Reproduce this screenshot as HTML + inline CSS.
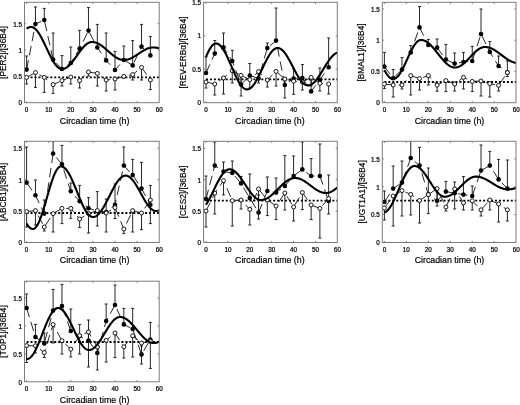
<!DOCTYPE html>
<html lang="en">
<head>
<meta charset="utf-8">
<title>Circadian expression</title>
<style>
html,body{margin:0;padding:0;background:#fff;}
body{width:520px;height:405px;overflow:hidden;}
svg{display:block;font-family:"Liberation Sans",Arial,sans-serif;}
</style>
</head>
<body>
<svg width="520" height="405" viewBox="0 0 520 405">
<rect width="520" height="405" fill="#fff"/>
<defs>
<clipPath id="c0"><rect x="24.5" y="2.3" width="134.7" height="100.4"/></clipPath>
<clipPath id="c1"><rect x="203.6" y="2.3" width="133.7" height="100.4"/></clipPath>
<clipPath id="c2"><rect x="382.3" y="2.3" width="133.7" height="100.4"/></clipPath>
<clipPath id="c3"><rect x="24.5" y="141.3" width="134.7" height="101.2"/></clipPath>
<clipPath id="c4"><rect x="203.6" y="141.3" width="133.7" height="101.2"/></clipPath>
<clipPath id="c5"><rect x="382.3" y="141.3" width="133.7" height="101.2"/></clipPath>
<clipPath id="c6"><rect x="24.5" y="281.2" width="134.7" height="100.6"/></clipPath>
</defs>
<g>
<g clip-path="url(#c0)">
<path d="M26.6 77.4 H159.2" stroke="#000" stroke-width="1.8" stroke-dasharray="2 1.95" fill="none"/>
<path d="M26.6 69.6V56M25.1 56H28.1M35.44 24V7M33.94 7H36.94M44.28 20V8.4M42.78 8.4H45.78M53.12 59.6V33M51.62 33H54.62M61.96 69V55.6M60.46 55.6H63.46M70.8 63V47M69.3 47H72.3M79.64 48.6V30.4M78.14 30.4H81.14M88.48 30.6V7.6M86.98 7.6H89.98M97.32 47.5V24.4M95.82 24.4H98.82M106.16 60.4V33M104.66 33H107.66M115 70V51.4M113.5 51.4H116.5M123.84 60V46M122.34 46H125.34M132.68 65.4V40.6M131.18 40.6H134.18M141.52 46.6V24.4M140.02 24.4H143.02M150.36 55.4V36.4M148.86 36.4H151.86" stroke="#1a1a1a" stroke-width="0.95" fill="none"/>
<path d="M26.6 69.6 L35.44 24 L44.28 20 L53.12 59.6 L61.96 69 L70.8 63 L79.64 48.6 L88.48 30.6 L97.32 47.5 L106.16 60.4 L115 70 L123.84 60 L132.68 65.4 L141.52 46.6 L150.36 55.4" stroke="#1a1a1a" stroke-width="0.95" stroke-dasharray="9.5 5" fill="none"/>
<circle cx="26.6" cy="69.6" r="2.3" fill="#000"/>
<circle cx="35.44" cy="24" r="2.3" fill="#000"/>
<circle cx="44.28" cy="20" r="2.3" fill="#000"/>
<circle cx="53.12" cy="59.6" r="2.3" fill="#000"/>
<circle cx="61.96" cy="69" r="2.3" fill="#000"/>
<circle cx="70.8" cy="63" r="2.3" fill="#000"/>
<circle cx="79.64" cy="48.6" r="2.3" fill="#000"/>
<circle cx="88.48" cy="30.6" r="2.3" fill="#000"/>
<circle cx="97.32" cy="47.5" r="2.3" fill="#000"/>
<circle cx="106.16" cy="60.4" r="2.3" fill="#000"/>
<circle cx="115" cy="70" r="2.3" fill="#000"/>
<circle cx="123.84" cy="60" r="2.3" fill="#000"/>
<circle cx="132.68" cy="65.4" r="2.3" fill="#000"/>
<circle cx="141.52" cy="46.6" r="2.3" fill="#000"/>
<circle cx="150.36" cy="55.4" r="2.3" fill="#000"/>
<path d="M26.6 77.4V84M25.1 84H28.1M35.44 72.6V87.4M33.94 87.4H36.94M44.28 77.4V92.4M42.78 92.4H45.78M53.12 84.6V93.4M51.62 93.4H54.62M61.96 80.6V86M60.46 86H63.46M70.8 77V84M69.3 84H72.3M79.64 80.6V88M78.14 88H81.14M88.48 72V76M86.98 76H89.98M97.32 73.4V86M95.82 86H98.82M106.16 80V91M104.66 91H107.66M115 79V90M113.5 90H116.5M123.84 76.4V78M122.34 78H125.34M132.68 74.6V80M131.18 80H134.18M141.52 67.4V80M140.02 80H143.02M150.36 80V89.6M148.86 89.6H151.86" stroke="#1a1a1a" stroke-width="0.95" fill="none"/>
<path d="M26.6 77.4 L35.44 72.6 L44.28 77.4 L53.12 84.6 L61.96 80.6 L70.8 77 L79.64 80.6 L88.48 72 L97.32 73.4 L106.16 80 L115 79 L123.84 76.4 L132.68 74.6 L141.52 67.4 L150.36 80" stroke="#1a1a1a" stroke-width="0.95" stroke-dasharray="9.5 5" fill="none"/>
<circle cx="26.6" cy="77.4" r="2" fill="#fff" stroke="#000" stroke-width="0.9"/>
<circle cx="35.44" cy="72.6" r="2" fill="#fff" stroke="#000" stroke-width="0.9"/>
<circle cx="44.28" cy="77.4" r="2" fill="#fff" stroke="#000" stroke-width="0.9"/>
<circle cx="53.12" cy="84.6" r="2" fill="#fff" stroke="#000" stroke-width="0.9"/>
<circle cx="61.96" cy="80.6" r="2" fill="#fff" stroke="#000" stroke-width="0.9"/>
<circle cx="70.8" cy="77" r="2" fill="#fff" stroke="#000" stroke-width="0.9"/>
<circle cx="79.64" cy="80.6" r="2" fill="#fff" stroke="#000" stroke-width="0.9"/>
<circle cx="88.48" cy="72" r="2" fill="#fff" stroke="#000" stroke-width="0.9"/>
<circle cx="97.32" cy="73.4" r="2" fill="#fff" stroke="#000" stroke-width="0.9"/>
<circle cx="106.16" cy="80" r="2" fill="#fff" stroke="#000" stroke-width="0.9"/>
<circle cx="115" cy="79" r="2" fill="#fff" stroke="#000" stroke-width="0.9"/>
<circle cx="123.84" cy="76.4" r="2" fill="#fff" stroke="#000" stroke-width="0.9"/>
<circle cx="132.68" cy="74.6" r="2" fill="#fff" stroke="#000" stroke-width="0.9"/>
<circle cx="141.52" cy="67.4" r="2" fill="#fff" stroke="#000" stroke-width="0.9"/>
<circle cx="150.36" cy="80" r="2" fill="#fff" stroke="#000" stroke-width="0.9"/>
<path d="M26.6 28.62 L27.1 28.27 L27.6 27.97 L28.1 27.71 L28.6 27.49 L29.1 27.31 L29.6 27.17 L30.1 27.07 L30.6 27.01 L31.1 27 L31.6 27.04 L32.1 27.13 L32.6 27.28 L33.1 27.47 L33.6 27.72 L34.1 28.03 L34.6 28.38 L35.1 28.79 L35.6 29.24 L36.1 29.74 L36.6 30.29 L37.1 30.89 L37.6 31.52 L38.1 32.21 L38.6 32.93 L39.1 33.69 L39.6 34.48 L40.1 35.31 L40.6 36.18 L41.1 37.07 L41.6 38 L42.1 38.94 L42.6 39.91 L43.1 40.91 L43.6 41.92 L44.1 42.94 L44.6 43.98 L45.1 45.03 L45.6 46.09 L46.1 47.15 L46.6 48.21 L47.1 49.28 L47.6 50.34 L48.1 51.39 L48.6 52.44 L49.1 53.47 L49.6 54.49 L50.1 55.49 L50.6 56.48 L51.1 57.44 L51.6 58.38 L52.1 59.29 L52.6 60.17 L53.1 61.02 L53.6 61.84 L54.1 62.62 L54.6 63.37 L55.1 64.07 L55.6 64.74 L56.1 65.36 L56.6 65.93 L57.1 66.46 L57.6 66.95 L58.1 67.38 L58.6 67.77 L59.1 68.1 L59.6 68.38 L60.1 68.61 L60.6 68.79 L61.1 68.91 L61.6 68.98 L62.1 69 L62.6 68.97 L63.1 68.91 L63.6 68.81 L64.1 68.67 L64.6 68.5 L65.1 68.29 L65.6 68.05 L66.1 67.77 L66.6 67.46 L67.1 67.12 L67.6 66.74 L68.1 66.34 L68.6 65.9 L69.1 65.44 L69.6 64.95 L70.1 64.43 L70.6 63.89 L71.1 63.32 L71.6 62.73 L72.1 62.13 L72.6 61.5 L73.1 60.86 L73.6 60.21 L74.1 59.54 L74.6 58.86 L75.1 58.17 L75.6 57.47 L76.1 56.77 L76.6 56.07 L77.1 55.36 L77.6 54.65 L78.1 53.95 L78.6 53.25 L79.1 52.56 L79.6 51.87 L80.1 51.19 L80.6 50.53 L81.1 49.88 L81.6 49.25 L82.1 48.63 L82.6 48.03 L83.1 47.45 L83.6 46.89 L84.1 46.36 L84.6 45.85 L85.1 45.37 L85.6 44.92 L86.1 44.5 L86.6 44.1 L87.1 43.74 L87.6 43.41 L88.1 43.11 L88.6 42.85 L89.1 42.62 L89.6 42.42 L90.1 42.27 L90.6 42.14 L91.1 42.06 L91.6 42.01 L92.1 42 L92.6 42.02 L93.1 42.05 L93.6 42.11 L94.1 42.19 L94.6 42.29 L95.1 42.41 L95.6 42.56 L96.1 42.72 L96.6 42.9 L97.1 43.1 L97.6 43.33 L98.1 43.57 L98.6 43.82 L99.1 44.1 L99.6 44.39 L100.1 44.7 L100.6 45.02 L101.1 45.36 L101.6 45.71 L102.1 46.07 L102.6 46.45 L103.1 46.84 L103.6 47.23 L104.1 47.64 L104.6 48.05 L105.1 48.47 L105.6 48.9 L106.1 49.33 L106.6 49.77 L107.1 50.21 L107.6 50.65 L108.1 51.09 L108.6 51.53 L109.1 51.97 L109.6 52.41 L110.1 52.84 L110.6 53.27 L111.1 53.7 L111.6 54.12 L112.1 54.53 L112.6 54.93 L113.1 55.32 L113.6 55.7 L114.1 56.07 L114.6 56.43 L115.1 56.78 L115.6 57.11 L116.1 57.43 L116.6 57.73 L117.1 58.01 L117.6 58.28 L118.1 58.53 L118.6 58.76 L119.1 58.98 L119.6 59.17 L120.1 59.35 L120.6 59.5 L121.1 59.64 L121.6 59.75 L122.1 59.84 L122.6 59.92 L123.1 59.96 L123.6 59.99 L124.1 60 L124.6 59.99 L125.1 59.96 L125.6 59.91 L126.1 59.84 L126.6 59.75 L127.1 59.65 L127.6 59.53 L128.1 59.39 L128.6 59.24 L129.1 59.07 L129.6 58.88 L130.1 58.68 L130.6 58.47 L131.1 58.24 L131.6 58 L132.1 57.74 L132.6 57.48 L133.1 57.2 L133.6 56.91 L134.1 56.62 L134.6 56.31 L135.1 56 L135.6 55.68 L136.1 55.36 L136.6 55.03 L137.1 54.69 L137.6 54.36 L138.1 54.02 L138.6 53.68 L139.1 53.34 L139.6 53.01 L140.1 52.67 L140.6 52.34 L141.1 52.01 L141.6 51.69 L142.1 51.37 L142.6 51.06 L143.1 50.76 L143.6 50.47 L144.1 50.19 L144.6 49.91 L145.1 49.65 L145.6 49.4 L146.1 49.17 L146.6 48.94 L147.1 48.73 L147.6 48.54 L148.1 48.36 L148.6 48.2 L149.1 48.05 L149.6 47.92 L150.1 47.81 L150.6 47.71 L151.1 47.63 L151.6 47.57 L152.1 47.53 L152.6 47.51 L153.1 47.5 L153.6 47.51 L154.1 47.52 L154.6 47.55 L155.1 47.58 L155.6 47.63 L156.1 47.68 L156.6 47.75 L157.1 47.82 L157.6 47.9 L158.1 47.99 L158.6 48.09 L159.1 48.19 L159.2 48.22" stroke="#000" stroke-width="2.1" fill="none" stroke-linejoin="round"/>
</g>
<rect x="24.5" y="2.3" width="134.7" height="100.4" fill="none" stroke="#7c7c7c" stroke-width="1.0"/>
<path d="M26.6 102.7v-1.6M26.6 2.3v1.6M48.7 102.7v-1.6M48.7 2.3v1.6M70.8 102.7v-1.6M70.8 2.3v1.6M92.9 102.7v-1.6M92.9 2.3v1.6M115 102.7v-1.6M115 2.3v1.6M137.1 102.7v-1.6M137.1 2.3v1.6M24.5 76.3h1.6M159.2 76.3h-1.6M24.5 50h1.6M159.2 50h-1.6M24.5 23.7h1.6M159.2 23.7h-1.6" stroke="#7c7c7c" stroke-width="1.0" fill="none"/>
<g font-size="6.3" fill="#000" stroke="#000" stroke-width="0.22">
<text x="26.6" y="112.36" text-anchor="middle">0</text>
<text x="48.7" y="112.36" text-anchor="middle">10</text>
<text x="70.8" y="112.36" text-anchor="middle">20</text>
<text x="92.9" y="112.36" text-anchor="middle">30</text>
<text x="115" y="112.36" text-anchor="middle">40</text>
<text x="137.1" y="112.36" text-anchor="middle">50</text>
<text x="159.2" y="112.36" text-anchor="middle">60</text>
<text x="21.9" y="105.46" text-anchor="end">0</text>
<text x="21.9" y="79.16" text-anchor="end">0.5</text>
<text x="21.9" y="52.86" text-anchor="end">1</text>
<text x="21.9" y="26.56" text-anchor="end">1.5</text>
</g>
<text x="94.65" y="123.69" text-anchor="middle" font-size="9.3" fill="#000" stroke="#000" stroke-width="0.2" textLength="69.6" lengthAdjust="spacingAndGlyphs">Circadian time (h)</text>
<text transform="translate(6.44 52.5) rotate(-90)" text-anchor="middle" font-size="8.3" fill="#000" stroke="#000" stroke-width="0.2">[PER2]/[36B4]</text>
</g>
<g>
<g clip-path="url(#c1)">
<path d="M206 79.4 H337.3" stroke="#000" stroke-width="1.8" stroke-dasharray="2 1.95" fill="none"/>
<path d="M206 73V57M204.5 57H207.5M214.76 53.6V40.5M213.26 40.5H216.26M223.52 47.4V33M222.02 33H225.02M232.28 61V50.3M230.78 50.3H233.78M241.04 84.6V76M239.54 76H242.54M249.8 75.6V63.5M248.3 63.5H251.3M258.56 78.4V74M257.06 74H260.06M267.32 48V43M265.82 43H268.82M276.08 40.6V8M274.58 8H277.58M284.84 85V78M283.34 78H286.34M293.6 78.5V69M292.1 69H295.1M302.36 78V64.5M300.86 64.5H303.86M311.12 91.4V80M309.62 80H312.62M319.88 80V68M318.38 68H321.38M328.64 67.2V38M327.14 38H330.14" stroke="#1a1a1a" stroke-width="0.95" fill="none"/>
<path d="M206 73 L214.76 53.6 L223.52 47.4 L232.28 61 L241.04 84.6 L249.8 75.6 L258.56 78.4 L267.32 48 L276.08 40.6 L284.84 85 L293.6 78.5 L302.36 78 L311.12 91.4 L319.88 80 L328.64 67.2" stroke="#1a1a1a" stroke-width="0.95" stroke-dasharray="9.5 5" fill="none"/>
<circle cx="206" cy="73" r="2.3" fill="#000"/>
<circle cx="214.76" cy="53.6" r="2.3" fill="#000"/>
<circle cx="223.52" cy="47.4" r="2.3" fill="#000"/>
<circle cx="232.28" cy="61" r="2.3" fill="#000"/>
<circle cx="241.04" cy="84.6" r="2.3" fill="#000"/>
<circle cx="249.8" cy="75.6" r="2.3" fill="#000"/>
<circle cx="258.56" cy="78.4" r="2.3" fill="#000"/>
<circle cx="267.32" cy="48" r="2.3" fill="#000"/>
<circle cx="276.08" cy="40.6" r="2.3" fill="#000"/>
<circle cx="284.84" cy="85" r="2.3" fill="#000"/>
<circle cx="293.6" cy="78.5" r="2.3" fill="#000"/>
<circle cx="302.36" cy="78" r="2.3" fill="#000"/>
<circle cx="311.12" cy="91.4" r="2.3" fill="#000"/>
<circle cx="319.88" cy="80" r="2.3" fill="#000"/>
<circle cx="328.64" cy="67.2" r="2.3" fill="#000"/>
<path d="M206 82V88M204.5 88H207.5M214.76 84V95M213.26 95H216.26M223.52 78V94M222.02 94H225.02M232.28 70.6V83M230.78 83H233.78M241.04 75.3V96M239.54 96H242.54M249.8 79.6V88M248.3 88H251.3M258.56 71.6V83M257.06 83H260.06M267.32 80V87M265.82 87H268.82M276.08 71.4V86M274.58 86H277.58M284.84 79V98M283.34 98H286.34M293.6 81.2V94.3M292.1 94.3H295.1M302.36 82V90M300.86 90H303.86M311.12 77.4V86M309.62 86H312.62M319.88 83.4V91M318.38 91H321.38M328.64 84V94M327.14 94H330.14" stroke="#1a1a1a" stroke-width="0.95" fill="none"/>
<path d="M206 82 L214.76 84 L223.52 78 L232.28 70.6 L241.04 75.3 L249.8 79.6 L258.56 71.6 L267.32 80 L276.08 71.4 L284.84 79 L293.6 81.2 L302.36 82 L311.12 77.4 L319.88 83.4 L328.64 84" stroke="#1a1a1a" stroke-width="0.95" stroke-dasharray="9.5 5" fill="none"/>
<circle cx="206" cy="82" r="2" fill="#fff" stroke="#000" stroke-width="0.9"/>
<circle cx="214.76" cy="84" r="2" fill="#fff" stroke="#000" stroke-width="0.9"/>
<circle cx="223.52" cy="78" r="2" fill="#fff" stroke="#000" stroke-width="0.9"/>
<circle cx="232.28" cy="70.6" r="2" fill="#fff" stroke="#000" stroke-width="0.9"/>
<circle cx="241.04" cy="75.3" r="2" fill="#fff" stroke="#000" stroke-width="0.9"/>
<circle cx="249.8" cy="79.6" r="2" fill="#fff" stroke="#000" stroke-width="0.9"/>
<circle cx="258.56" cy="71.6" r="2" fill="#fff" stroke="#000" stroke-width="0.9"/>
<circle cx="267.32" cy="80" r="2" fill="#fff" stroke="#000" stroke-width="0.9"/>
<circle cx="276.08" cy="71.4" r="2" fill="#fff" stroke="#000" stroke-width="0.9"/>
<circle cx="284.84" cy="79" r="2" fill="#fff" stroke="#000" stroke-width="0.9"/>
<circle cx="293.6" cy="81.2" r="2" fill="#fff" stroke="#000" stroke-width="0.9"/>
<circle cx="302.36" cy="82" r="2" fill="#fff" stroke="#000" stroke-width="0.9"/>
<circle cx="311.12" cy="77.4" r="2" fill="#fff" stroke="#000" stroke-width="0.9"/>
<circle cx="319.88" cy="83.4" r="2" fill="#fff" stroke="#000" stroke-width="0.9"/>
<circle cx="328.64" cy="84" r="2" fill="#fff" stroke="#000" stroke-width="0.9"/>
<path d="M206 56.95 L206.5 55.74 L207 54.57 L207.5 53.45 L208 52.38 L208.5 51.36 L209 50.39 L209.5 49.47 L210 48.62 L210.5 47.82 L211 47.09 L211.5 46.42 L212 45.81 L212.5 45.28 L213 44.81 L213.5 44.41 L214 44.08 L214.5 43.83 L215 43.65 L215.5 43.54 L216 43.5 L216.5 43.53 L217 43.62 L217.5 43.76 L218 43.97 L218.5 44.23 L219 44.55 L219.5 44.93 L220 45.36 L220.5 45.85 L221 46.38 L221.5 46.97 L222 47.61 L222.5 48.3 L223 49.04 L223.5 49.82 L224 50.64 L224.5 51.5 L225 52.4 L225.5 53.34 L226 54.31 L226.5 55.31 L227 56.34 L227.5 57.4 L228 58.48 L228.5 59.58 L229 60.7 L229.5 61.83 L230 62.97 L230.5 64.13 L231 65.29 L231.5 66.45 L232 67.61 L232.5 68.77 L233 69.93 L233.5 71.07 L234 72.2 L234.5 73.32 L235 74.42 L235.5 75.5 L236 76.56 L236.5 77.59 L237 78.59 L237.5 79.56 L238 80.5 L238.5 81.4 L239 82.26 L239.5 83.08 L240 83.86 L240.5 84.6 L241 85.29 L241.5 85.93 L242 86.52 L242.5 87.05 L243 87.54 L243.5 87.97 L244 88.35 L244.5 88.67 L245 88.93 L245.5 89.14 L246 89.28 L246.5 89.37 L247 89.4 L247.5 89.37 L248 89.29 L248.5 89.16 L249 88.97 L249.5 88.72 L250 88.43 L250.5 88.08 L251 87.68 L251.5 87.23 L252 86.73 L252.5 86.19 L253 85.6 L253.5 84.96 L254 84.28 L254.5 83.56 L255 82.8 L255.5 82.01 L256 81.17 L256.5 80.31 L257 79.42 L257.5 78.49 L258 77.54 L258.5 76.57 L259 75.58 L259.5 74.57 L260 73.54 L260.5 72.5 L261 71.45 L261.5 70.4 L262 69.34 L262.5 68.27 L263 67.21 L263.5 66.16 L264 65.11 L264.5 64.06 L265 63.04 L265.5 62.02 L266 61.02 L266.5 60.05 L267 59.09 L267.5 58.17 L268 57.27 L268.5 56.4 L269 55.56 L269.5 54.75 L270 53.99 L270.5 53.26 L271 52.57 L271.5 51.93 L272 51.33 L272.5 50.77 L273 50.27 L273.5 49.81 L274 49.4 L274.5 49.04 L275 48.73 L275.5 48.48 L276 48.28 L276.5 48.13 L277 48.04 L277.5 48 L278 48.02 L278.5 48.08 L279 48.2 L279.5 48.36 L280 48.57 L280.5 48.83 L281 49.14 L281.5 49.5 L282 49.9 L282.5 50.35 L283 50.84 L283.5 51.37 L284 51.94 L284.5 52.56 L285 53.21 L285.5 53.89 L286 54.61 L286.5 55.37 L287 56.15 L287.5 56.96 L288 57.8 L288.5 58.66 L289 59.54 L289.5 60.45 L290 61.36 L290.5 62.3 L291 63.24 L291.5 64.2 L292 65.16 L292.5 66.12 L293 67.09 L293.5 68.05 L294 69.01 L294.5 69.97 L295 70.91 L295.5 71.85 L296 72.77 L296.5 73.68 L297 74.56 L297.5 75.43 L298 76.27 L298.5 77.09 L299 77.88 L299.5 78.64 L300 79.37 L300.5 80.06 L301 80.72 L301.5 81.34 L302 81.92 L302.5 82.46 L303 82.96 L303.5 83.41 L304 83.82 L304.5 84.19 L305 84.51 L305.5 84.78 L306 85 L306.5 85.18 L307 85.3 L307.5 85.38 L308 85.4 L308.5 85.38 L309 85.32 L309.5 85.21 L310 85.06 L310.5 84.87 L311 84.65 L311.5 84.38 L312 84.07 L312.5 83.72 L313 83.33 L313.5 82.91 L314 82.45 L314.5 81.96 L315 81.43 L315.5 80.87 L316 80.28 L316.5 79.67 L317 79.02 L317.5 78.35 L318 77.65 L318.5 76.93 L319 76.19 L319.5 75.44 L320 74.66 L320.5 73.87 L321 73.07 L321.5 72.26 L322 71.44 L322.5 70.61 L323 69.78 L323.5 68.95 L324 68.12 L324.5 67.29 L325 66.46 L325.5 65.64 L326 64.83 L326.5 64.03 L327 63.24 L327.5 62.46 L328 61.71 L328.5 60.97 L329 60.25 L329.5 59.55 L330 58.88 L330.5 58.23 L331 57.62 L331.5 57.03 L332 56.47 L332.5 55.94 L333 55.45 L333.5 54.99 L334 54.57 L334.5 54.18 L335 53.83 L335.5 53.52 L336 53.25 L336.5 53.03 L337 52.84 L337.3 52.74" stroke="#000" stroke-width="2.1" fill="none" stroke-linejoin="round"/>
</g>
<rect x="203.6" y="2.3" width="133.7" height="100.4" fill="none" stroke="#7c7c7c" stroke-width="1.0"/>
<path d="M206 102.7v-1.6M206 2.3v1.6M227.9 102.7v-1.6M227.9 2.3v1.6M249.8 102.7v-1.6M249.8 2.3v1.6M271.7 102.7v-1.6M271.7 2.3v1.6M293.6 102.7v-1.6M293.6 2.3v1.6M315.5 102.7v-1.6M315.5 2.3v1.6M203.6 69.25h1.6M337.3 69.25h-1.6M203.6 35.9h1.6M337.3 35.9h-1.6" stroke="#7c7c7c" stroke-width="1.0" fill="none"/>
<g font-size="6.3" fill="#000" stroke="#000" stroke-width="0.22">
<text x="206" y="112.36" text-anchor="middle">0</text>
<text x="227.9" y="112.36" text-anchor="middle">10</text>
<text x="249.8" y="112.36" text-anchor="middle">20</text>
<text x="271.7" y="112.36" text-anchor="middle">30</text>
<text x="293.6" y="112.36" text-anchor="middle">40</text>
<text x="315.5" y="112.36" text-anchor="middle">50</text>
<text x="337.4" y="112.36" text-anchor="middle">60</text>
<text x="201" y="104.86" text-anchor="end">0</text>
<text x="201" y="71.51" text-anchor="end">0.5</text>
<text x="201" y="38.16" text-anchor="end">1</text>
<text x="201" y="4.81" text-anchor="end">1.5</text>
</g>
<text x="269.85" y="123.69" text-anchor="middle" font-size="9.3" fill="#000" stroke="#000" stroke-width="0.2" textLength="69.6" lengthAdjust="spacingAndGlyphs">Circadian time (h)</text>
<text transform="translate(185.84 52.5) rotate(-90)" text-anchor="middle" font-size="8.3" fill="#000" stroke="#000" stroke-width="0.2">[REV-ERBα]/[36B4]</text>
</g>
<g>
<g clip-path="url(#c2)">
<path d="M384.4 82 H516" stroke="#000" stroke-width="1.8" stroke-dasharray="2 1.95" fill="none"/>
<path d="M384.4 66.6V52.4M382.9 52.4H385.9M393.18 78.3V69.6M391.68 69.6H394.68M401.97 69.6V57.6M400.47 57.6H403.47M410.75 52.4V45.6M409.25 45.6H412.25M419.54 27.4V6.6M418.04 6.6H421.04M428.32 45V39.5M426.82 39.5H429.82M437.1 47.6V39M435.6 39H438.6M445.89 59.6V44.4M444.39 44.4H447.39M454.67 63.6V53M453.17 53H456.17M463.46 62V52.4M461.96 52.4H464.96M472.24 61V46.4M470.74 46.4H473.74M481.02 34V9M479.52 9H482.52M489.81 52V41.6M488.31 41.6H491.31M498.59 66V56M497.09 56H500.09M507.38 72.4V61M505.88 61H508.88" stroke="#1a1a1a" stroke-width="0.95" fill="none"/>
<path d="M384.4 66.6 L393.18 78.3 L401.97 69.6 L410.75 52.4 L419.54 27.4 L428.32 45 L437.1 47.6 L445.89 59.6 L454.67 63.6 L463.46 62 L472.24 61 L481.02 34 L489.81 52 L498.59 66 L507.38 72.4" stroke="#1a1a1a" stroke-width="0.95" stroke-dasharray="9.5 5" fill="none"/>
<circle cx="384.4" cy="66.6" r="2.3" fill="#000"/>
<circle cx="393.18" cy="78.3" r="2.3" fill="#000"/>
<circle cx="401.97" cy="69.6" r="2.3" fill="#000"/>
<circle cx="410.75" cy="52.4" r="2.3" fill="#000"/>
<circle cx="419.54" cy="27.4" r="2.3" fill="#000"/>
<circle cx="428.32" cy="45" r="2.3" fill="#000"/>
<circle cx="437.1" cy="47.6" r="2.3" fill="#000"/>
<circle cx="445.89" cy="59.6" r="2.3" fill="#000"/>
<circle cx="454.67" cy="63.6" r="2.3" fill="#000"/>
<circle cx="463.46" cy="62" r="2.3" fill="#000"/>
<circle cx="472.24" cy="61" r="2.3" fill="#000"/>
<circle cx="481.02" cy="34" r="2.3" fill="#000"/>
<circle cx="489.81" cy="52" r="2.3" fill="#000"/>
<circle cx="498.59" cy="66" r="2.3" fill="#000"/>
<circle cx="507.38" cy="72.4" r="2.3" fill="#000"/>
<path d="M384.4 84V88.6M382.9 88.6H385.9M393.18 85V97M391.68 97H394.68M401.97 85V89M400.47 89H403.47M410.75 75.6V95M409.25 95H412.25M419.54 78.6V90M418.04 90H421.04M428.32 75.6V85M426.82 85H429.82M437.1 85.2V91.2M435.6 91.2H438.6M445.89 80.6V91.6M444.39 91.6H447.39M454.67 84V91M453.17 91H456.17M463.46 77.4V89M461.96 89H464.96M472.24 81.4V91.6M470.74 91.6H473.74M481.02 81V96M479.52 96H482.52M489.81 83.6V97M488.31 97H491.31M498.59 85.4V91M497.09 91H500.09M507.38 72.6V76.6M505.88 76.6H508.88" stroke="#1a1a1a" stroke-width="0.95" fill="none"/>
<path d="M384.4 84 L393.18 85 L401.97 85 L410.75 75.6 L419.54 78.6 L428.32 75.6 L437.1 85.2 L445.89 80.6 L454.67 84 L463.46 77.4 L472.24 81.4 L481.02 81 L489.81 83.6 L498.59 85.4 L507.38 72.6" stroke="#1a1a1a" stroke-width="0.95" stroke-dasharray="9.5 5" fill="none"/>
<circle cx="384.4" cy="84" r="2" fill="#fff" stroke="#000" stroke-width="0.9"/>
<circle cx="393.18" cy="85" r="2" fill="#fff" stroke="#000" stroke-width="0.9"/>
<circle cx="401.97" cy="85" r="2" fill="#fff" stroke="#000" stroke-width="0.9"/>
<circle cx="410.75" cy="75.6" r="2" fill="#fff" stroke="#000" stroke-width="0.9"/>
<circle cx="419.54" cy="78.6" r="2" fill="#fff" stroke="#000" stroke-width="0.9"/>
<circle cx="428.32" cy="75.6" r="2" fill="#fff" stroke="#000" stroke-width="0.9"/>
<circle cx="437.1" cy="85.2" r="2" fill="#fff" stroke="#000" stroke-width="0.9"/>
<circle cx="445.89" cy="80.6" r="2" fill="#fff" stroke="#000" stroke-width="0.9"/>
<circle cx="454.67" cy="84" r="2" fill="#fff" stroke="#000" stroke-width="0.9"/>
<circle cx="463.46" cy="77.4" r="2" fill="#fff" stroke="#000" stroke-width="0.9"/>
<circle cx="472.24" cy="81.4" r="2" fill="#fff" stroke="#000" stroke-width="0.9"/>
<circle cx="481.02" cy="81" r="2" fill="#fff" stroke="#000" stroke-width="0.9"/>
<circle cx="489.81" cy="83.6" r="2" fill="#fff" stroke="#000" stroke-width="0.9"/>
<circle cx="498.59" cy="85.4" r="2" fill="#fff" stroke="#000" stroke-width="0.9"/>
<circle cx="507.38" cy="72.6" r="2" fill="#fff" stroke="#000" stroke-width="0.9"/>
<path d="M384.4 69.99 L384.9 70.93 L385.4 71.82 L385.9 72.67 L386.4 73.48 L386.9 74.23 L387.4 74.94 L387.9 75.59 L388.4 76.19 L388.9 76.74 L389.4 77.23 L389.9 77.66 L390.4 78.03 L390.9 78.35 L391.4 78.6 L391.9 78.79 L392.4 78.92 L392.9 78.99 L393.4 79 L393.9 78.94 L394.4 78.82 L394.9 78.64 L395.4 78.4 L395.9 78.1 L396.4 77.74 L396.9 77.32 L397.4 76.84 L397.9 76.31 L398.4 75.73 L398.9 75.09 L399.4 74.41 L399.9 73.67 L400.4 72.89 L400.9 72.07 L401.4 71.21 L401.9 70.31 L402.4 69.38 L402.9 68.41 L403.4 67.42 L403.9 66.4 L404.4 65.36 L404.9 64.3 L405.4 63.22 L405.9 62.14 L406.4 61.04 L406.9 59.94 L407.4 58.84 L407.9 57.74 L408.4 56.65 L408.9 55.56 L409.4 54.49 L409.9 53.43 L410.4 52.4 L410.9 51.38 L411.4 50.39 L411.9 49.43 L412.4 48.51 L412.9 47.61 L413.4 46.76 L413.9 45.95 L414.4 45.18 L414.9 44.45 L415.4 43.78 L415.9 43.15 L416.4 42.58 L416.9 42.06 L417.4 41.59 L417.9 41.18 L418.4 40.84 L418.9 40.55 L419.4 40.32 L419.9 40.15 L420.4 40.04 L420.9 40 L421.4 40.01 L421.9 40.05 L422.4 40.11 L422.9 40.21 L423.4 40.34 L423.9 40.49 L424.4 40.67 L424.9 40.88 L425.4 41.12 L425.9 41.39 L426.4 41.68 L426.9 41.99 L427.4 42.33 L427.9 42.7 L428.4 43.09 L428.9 43.5 L429.4 43.94 L429.9 44.39 L430.4 44.87 L430.9 45.36 L431.4 45.87 L431.9 46.4 L432.4 46.95 L432.9 47.51 L433.4 48.08 L433.9 48.66 L434.4 49.26 L434.9 49.87 L435.4 50.48 L435.9 51.1 L436.4 51.72 L436.9 52.35 L437.4 52.99 L437.9 53.62 L438.4 54.26 L438.9 54.89 L439.4 55.52 L439.9 56.15 L440.4 56.77 L440.9 57.39 L441.4 58 L441.9 58.6 L442.4 59.19 L442.9 59.76 L443.4 60.33 L443.9 60.88 L444.4 61.42 L444.9 61.93 L445.4 62.44 L445.9 62.92 L446.4 63.38 L446.9 63.83 L447.4 64.25 L447.9 64.65 L448.4 65.02 L448.9 65.37 L449.4 65.7 L449.9 66 L450.4 66.28 L450.9 66.53 L451.4 66.75 L451.9 66.94 L452.4 67.11 L452.9 67.24 L453.4 67.35 L453.9 67.43 L454.4 67.48 L454.9 67.5 L455.4 67.49 L455.9 67.45 L456.4 67.39 L456.9 67.3 L457.4 67.18 L457.9 67.03 L458.4 66.86 L458.9 66.66 L459.4 66.43 L459.9 66.18 L460.4 65.9 L460.9 65.61 L461.4 65.28 L461.9 64.94 L462.4 64.57 L462.9 64.19 L463.4 63.78 L463.9 63.36 L464.4 62.92 L464.9 62.47 L465.4 62 L465.9 61.52 L466.4 61.02 L466.9 60.52 L467.4 60.01 L467.9 59.49 L468.4 58.96 L468.9 58.43 L469.4 57.89 L469.9 57.36 L470.4 56.82 L470.9 56.29 L471.4 55.75 L471.9 55.22 L472.4 54.7 L472.9 54.18 L473.4 53.68 L473.9 53.18 L474.4 52.69 L474.9 52.22 L475.4 51.76 L475.9 51.31 L476.4 50.88 L476.9 50.47 L477.4 50.08 L477.9 49.71 L478.4 49.35 L478.9 49.02 L479.4 48.71 L479.9 48.43 L480.4 48.17 L480.9 47.93 L481.4 47.72 L481.9 47.54 L482.4 47.38 L482.9 47.25 L483.4 47.14 L483.9 47.07 L484.4 47.02 L484.9 47 L485.4 47.01 L485.9 47.03 L486.4 47.07 L486.9 47.13 L487.4 47.21 L487.9 47.3 L488.4 47.42 L488.9 47.55 L489.4 47.69 L489.9 47.85 L490.4 48.03 L490.9 48.23 L491.4 48.44 L491.9 48.66 L492.4 48.9 L492.9 49.16 L493.4 49.42 L493.9 49.7 L494.4 50 L494.9 50.3 L495.4 50.61 L495.9 50.93 L496.4 51.27 L496.9 51.61 L497.4 51.96 L497.9 52.31 L498.4 52.67 L498.9 53.04 L499.4 53.41 L499.9 53.79 L500.4 54.16 L500.9 54.54 L501.4 54.92 L501.9 55.3 L502.4 55.68 L502.9 56.06 L503.4 56.44 L503.9 56.81 L504.4 57.18 L504.9 57.54 L505.4 57.9 L505.9 58.25 L506.4 58.6 L506.9 58.93 L507.4 59.26 L507.9 59.58 L508.4 59.89 L508.9 60.18 L509.4 60.47 L509.9 60.74 L510.4 61 L510.9 61.24 L511.4 61.47 L511.9 61.69 L512.4 61.89 L512.9 62.08 L513.4 62.25 L513.9 62.4 L514.4 62.53 L514.9 62.65 L515.4 62.76 L515.9 62.84 L516 62.86" stroke="#000" stroke-width="2.1" fill="none" stroke-linejoin="round"/>
</g>
<rect x="382.3" y="2.3" width="133.7" height="100.4" fill="none" stroke="#7c7c7c" stroke-width="1.0"/>
<path d="M384.4 102.7v-1.6M384.4 2.3v1.6M406.36 102.7v-1.6M406.36 2.3v1.6M428.32 102.7v-1.6M428.32 2.3v1.6M450.28 102.7v-1.6M450.28 2.3v1.6M472.24 102.7v-1.6M472.24 2.3v1.6M494.2 102.7v-1.6M494.2 2.3v1.6M382.3 71.4h1.6M516 71.4h-1.6M382.3 40.2h1.6M516 40.2h-1.6M382.3 9h1.6M516 9h-1.6" stroke="#7c7c7c" stroke-width="1.0" fill="none"/>
<g font-size="6.3" fill="#000" stroke="#000" stroke-width="0.22">
<text x="384.4" y="112.36" text-anchor="middle">0</text>
<text x="406.36" y="112.36" text-anchor="middle">10</text>
<text x="428.32" y="112.36" text-anchor="middle">20</text>
<text x="450.28" y="112.36" text-anchor="middle">30</text>
<text x="472.24" y="112.36" text-anchor="middle">40</text>
<text x="494.2" y="112.36" text-anchor="middle">50</text>
<text x="516.16" y="112.36" text-anchor="middle">60</text>
<text x="379.7" y="105.46" text-anchor="end">0</text>
<text x="379.7" y="74.26" text-anchor="end">0.5</text>
<text x="379.7" y="43.06" text-anchor="end">1</text>
<text x="379.7" y="11.86" text-anchor="end">1.5</text>
</g>
<text x="449.45" y="123.69" text-anchor="middle" font-size="9.3" fill="#000" stroke="#000" stroke-width="0.2" textLength="69.6" lengthAdjust="spacingAndGlyphs">Circadian time (h)</text>
<text transform="translate(364.24 52.5) rotate(-90)" text-anchor="middle" font-size="8.3" fill="#000" stroke="#000" stroke-width="0.2">[BMAL1]/[36B4]</text>
</g>
<g>
<g clip-path="url(#c3)">
<path d="M26.6 213 H159.2" stroke="#000" stroke-width="1.8" stroke-dasharray="2 1.95" fill="none"/>
<path d="M26.6 182.6V147M25.1 147H28.1M35.44 195.3V180M33.94 180H36.94M44.28 213.6V200M42.78 200H45.78M53.12 153.6V141M51.62 141H54.62M61.96 164.4V145.4M60.46 145.4H63.46M70.8 191.3V183M69.3 183H72.3M79.64 201.3V185.4M78.14 185.4H81.14M88.48 208.2V197.6M86.98 197.6H89.98M97.32 211V191.6M95.82 191.6H98.82M106.16 212V199M104.66 199H107.66M115 204.7V184M113.5 184H116.5M123.84 165.6V147M122.34 147H125.34M132.68 175V159.4M131.18 159.4H134.18M141.52 188.6V162.4M140.02 162.4H143.02M150.36 204.7V185.4M148.86 185.4H151.86" stroke="#1a1a1a" stroke-width="0.95" fill="none"/>
<path d="M26.6 182.6 L35.44 195.3 L44.28 213.6 L53.12 153.6 L61.96 164.4 L70.8 191.3 L79.64 201.3 L88.48 208.2 L97.32 211 L106.16 212 L115 204.7 L123.84 165.6 L132.68 175 L141.52 188.6 L150.36 204.7" stroke="#1a1a1a" stroke-width="0.95" stroke-dasharray="9.5 5" fill="none"/>
<circle cx="26.6" cy="182.6" r="2.3" fill="#000"/>
<circle cx="35.44" cy="195.3" r="2.3" fill="#000"/>
<circle cx="44.28" cy="213.6" r="2.3" fill="#000"/>
<circle cx="53.12" cy="153.6" r="2.3" fill="#000"/>
<circle cx="61.96" cy="164.4" r="2.3" fill="#000"/>
<circle cx="70.8" cy="191.3" r="2.3" fill="#000"/>
<circle cx="79.64" cy="201.3" r="2.3" fill="#000"/>
<circle cx="88.48" cy="208.2" r="2.3" fill="#000"/>
<circle cx="97.32" cy="211" r="2.3" fill="#000"/>
<circle cx="106.16" cy="212" r="2.3" fill="#000"/>
<circle cx="115" cy="204.7" r="2.3" fill="#000"/>
<circle cx="123.84" cy="165.6" r="2.3" fill="#000"/>
<circle cx="132.68" cy="175" r="2.3" fill="#000"/>
<circle cx="141.52" cy="188.6" r="2.3" fill="#000"/>
<circle cx="150.36" cy="204.7" r="2.3" fill="#000"/>
<path d="M26.6 211.6V227M25.1 227H28.1M35.44 210.6V225M33.94 225H36.94M44.28 227V231M42.78 231H45.78M53.12 213.6V232M51.62 232H54.62M61.96 208.4V223.6M60.46 223.6H63.46M70.8 208.4V218.4M69.3 218.4H72.3M79.64 219V227.6M78.14 227.6H81.14M88.48 213.6V233M86.98 233H89.98M97.32 210.6V226M95.82 226H98.82M106.16 213V232M104.66 232H107.66M115 207.6V218.5M113.5 218.5H116.5M123.84 229V233.6M122.34 233.6H125.34M132.68 210.6V232M131.18 232H134.18M141.52 213V229.6M140.02 229.6H143.02M150.36 200V223.6M148.86 223.6H151.86" stroke="#1a1a1a" stroke-width="0.95" fill="none"/>
<path d="M26.6 211.6 L35.44 210.6 L44.28 227 L53.12 213.6 L61.96 208.4 L70.8 208.4 L79.64 219 L88.48 213.6 L97.32 210.6 L106.16 213 L115 207.6 L123.84 229 L132.68 210.6 L141.52 213 L150.36 200" stroke="#1a1a1a" stroke-width="0.95" stroke-dasharray="9.5 5" fill="none"/>
<circle cx="26.6" cy="211.6" r="2" fill="#fff" stroke="#000" stroke-width="0.9"/>
<circle cx="35.44" cy="210.6" r="2" fill="#fff" stroke="#000" stroke-width="0.9"/>
<circle cx="44.28" cy="227" r="2" fill="#fff" stroke="#000" stroke-width="0.9"/>
<circle cx="53.12" cy="213.6" r="2" fill="#fff" stroke="#000" stroke-width="0.9"/>
<circle cx="61.96" cy="208.4" r="2" fill="#fff" stroke="#000" stroke-width="0.9"/>
<circle cx="70.8" cy="208.4" r="2" fill="#fff" stroke="#000" stroke-width="0.9"/>
<circle cx="79.64" cy="219" r="2" fill="#fff" stroke="#000" stroke-width="0.9"/>
<circle cx="88.48" cy="213.6" r="2" fill="#fff" stroke="#000" stroke-width="0.9"/>
<circle cx="97.32" cy="210.6" r="2" fill="#fff" stroke="#000" stroke-width="0.9"/>
<circle cx="106.16" cy="213" r="2" fill="#fff" stroke="#000" stroke-width="0.9"/>
<circle cx="115" cy="207.6" r="2" fill="#fff" stroke="#000" stroke-width="0.9"/>
<circle cx="123.84" cy="229" r="2" fill="#fff" stroke="#000" stroke-width="0.9"/>
<circle cx="132.68" cy="210.6" r="2" fill="#fff" stroke="#000" stroke-width="0.9"/>
<circle cx="141.52" cy="213" r="2" fill="#fff" stroke="#000" stroke-width="0.9"/>
<circle cx="150.36" cy="200" r="2" fill="#fff" stroke="#000" stroke-width="0.9"/>
<path d="M26.6 223.49 L27.1 224.32 L27.6 225.08 L28.1 225.79 L28.6 226.42 L29.1 226.99 L29.6 227.5 L30.1 227.93 L30.6 228.29 L31.1 228.57 L31.6 228.79 L32.1 228.93 L32.6 228.99 L33.1 228.98 L33.6 228.88 L34.1 228.67 L34.6 228.37 L35.1 227.98 L35.6 227.49 L36.1 226.91 L36.6 226.24 L37.1 225.48 L37.6 224.63 L38.1 223.7 L38.6 222.69 L39.1 221.6 L39.6 220.44 L40.1 219.21 L40.6 217.91 L41.1 216.55 L41.6 215.13 L42.1 213.65 L42.6 212.13 L43.1 210.56 L43.6 208.95 L44.1 207.31 L44.6 205.63 L45.1 203.93 L45.6 202.22 L46.1 200.49 L46.6 198.75 L47.1 197 L47.6 195.26 L48.1 193.53 L48.6 191.81 L49.1 190.11 L49.6 188.43 L50.1 186.78 L50.6 185.16 L51.1 183.58 L51.6 182.05 L52.1 180.57 L52.6 179.13 L53.1 177.76 L53.6 176.45 L54.1 175.2 L54.6 174.02 L55.1 172.92 L55.6 171.89 L56.1 170.95 L56.6 170.09 L57.1 169.31 L57.6 168.62 L58.1 168.02 L58.6 167.51 L59.1 167.1 L59.6 166.78 L60.1 166.56 L60.6 166.43 L61.1 166.4 L61.6 166.44 L62.1 166.55 L62.6 166.71 L63.1 166.94 L63.6 167.22 L64.1 167.56 L64.6 167.96 L65.1 168.42 L65.6 168.94 L66.1 169.51 L66.6 170.13 L67.1 170.8 L67.6 171.53 L68.1 172.3 L68.6 173.12 L69.1 173.99 L69.6 174.89 L70.1 175.84 L70.6 176.83 L71.1 177.85 L71.6 178.91 L72.1 179.99 L72.6 181.11 L73.1 182.25 L73.6 183.41 L74.1 184.59 L74.6 185.79 L75.1 187.01 L75.6 188.23 L76.1 189.47 L76.6 190.71 L77.1 191.95 L77.6 193.19 L78.1 194.43 L78.6 195.66 L79.1 196.88 L79.6 198.09 L80.1 199.28 L80.6 200.46 L81.1 201.61 L81.6 202.74 L82.1 203.84 L82.6 204.92 L83.1 205.96 L83.6 206.97 L84.1 207.94 L84.6 208.87 L85.1 209.76 L85.6 210.61 L86.1 211.41 L86.6 212.17 L87.1 212.87 L87.6 213.53 L88.1 214.13 L88.6 214.68 L89.1 215.17 L89.6 215.6 L90.1 215.98 L90.6 216.3 L91.1 216.56 L91.6 216.76 L92.1 216.9 L92.6 216.98 L93.1 217 L93.6 216.97 L94.1 216.88 L94.6 216.75 L95.1 216.58 L95.6 216.35 L96.1 216.08 L96.6 215.77 L97.1 215.41 L97.6 215 L98.1 214.55 L98.6 214.06 L99.1 213.53 L99.6 212.95 L100.1 212.34 L100.6 211.69 L101.1 211.01 L101.6 210.29 L102.1 209.54 L102.6 208.76 L103.1 207.95 L103.6 207.11 L104.1 206.24 L104.6 205.36 L105.1 204.45 L105.6 203.53 L106.1 202.58 L106.6 201.63 L107.1 200.66 L107.6 199.68 L108.1 198.69 L108.6 197.7 L109.1 196.7 L109.6 195.7 L110.1 194.71 L110.6 193.71 L111.1 192.73 L111.6 191.75 L112.1 190.78 L112.6 189.83 L113.1 188.89 L113.6 187.97 L114.1 187.06 L114.6 186.18 L115.1 185.32 L115.6 184.49 L116.1 183.69 L116.6 182.91 L117.1 182.16 L117.6 181.45 L118.1 180.78 L118.6 180.13 L119.1 179.53 L119.6 178.96 L120.1 178.44 L120.6 177.96 L121.1 177.52 L121.6 177.12 L122.1 176.77 L122.6 176.46 L123.1 176.2 L123.6 175.98 L124.1 175.82 L124.6 175.7 L125.1 175.62 L125.6 175.6 L126.1 175.62 L126.6 175.69 L127.1 175.81 L127.6 175.98 L128.1 176.19 L128.6 176.44 L129.1 176.75 L129.6 177.09 L130.1 177.48 L130.6 177.91 L131.1 178.38 L131.6 178.89 L132.1 179.45 L132.6 180.03 L133.1 180.66 L133.6 181.31 L134.1 182 L134.6 182.72 L135.1 183.47 L135.6 184.24 L136.1 185.04 L136.6 185.86 L137.1 186.7 L137.6 187.55 L138.1 188.43 L138.6 189.31 L139.1 190.21 L139.6 191.11 L140.1 192.02 L140.6 192.93 L141.1 193.85 L141.6 194.76 L142.1 195.67 L142.6 196.57 L143.1 197.47 L143.6 198.35 L144.1 199.22 L144.6 200.07 L145.1 200.91 L145.6 201.72 L146.1 202.52 L146.6 203.29 L147.1 204.03 L147.6 204.74 L148.1 205.42 L148.6 206.07 L149.1 206.69 L149.6 207.27 L150.1 207.81 L150.6 208.31 L151.1 208.78 L151.6 209.2 L152.1 209.58 L152.6 209.92 L153.1 210.21 L153.6 210.46 L154.1 210.66 L154.6 210.82 L155.1 210.92 L155.6 210.98 L156.1 211 L156.6 210.97 L157.1 210.92 L157.6 210.82 L158.1 210.69 L158.6 210.53 L159.1 210.33 L159.2 210.29" stroke="#000" stroke-width="2.1" fill="none" stroke-linejoin="round"/>
</g>
<rect x="24.5" y="141.3" width="134.7" height="101.2" fill="none" stroke="#7c7c7c" stroke-width="1.0"/>
<path d="M26.6 242.5v-1.6M26.6 141.3v1.6M48.7 242.5v-1.6M48.7 141.3v1.6M70.8 242.5v-1.6M70.8 141.3v1.6M92.9 242.5v-1.6M92.9 141.3v1.6M115 242.5v-1.6M115 141.3v1.6M137.1 242.5v-1.6M137.1 141.3v1.6M24.5 211.15h1.6M159.2 211.15h-1.6M24.5 179.7h1.6M159.2 179.7h-1.6M24.5 148.25h1.6M159.2 148.25h-1.6" stroke="#7c7c7c" stroke-width="1.0" fill="none"/>
<g font-size="6.3" fill="#000" stroke="#000" stroke-width="0.22">
<text x="26.6" y="252.16" text-anchor="middle">0</text>
<text x="48.7" y="252.16" text-anchor="middle">10</text>
<text x="70.8" y="252.16" text-anchor="middle">20</text>
<text x="92.9" y="252.16" text-anchor="middle">30</text>
<text x="115" y="252.16" text-anchor="middle">40</text>
<text x="137.1" y="252.16" text-anchor="middle">50</text>
<text x="159.2" y="252.16" text-anchor="middle">60</text>
<text x="21.9" y="245.46" text-anchor="end">0</text>
<text x="21.9" y="214.01" text-anchor="end">0.5</text>
<text x="21.9" y="182.56" text-anchor="end">1</text>
<text x="21.9" y="151.11" text-anchor="end">1.5</text>
</g>
<text x="94.65" y="263.49" text-anchor="middle" font-size="9.3" fill="#000" stroke="#000" stroke-width="0.2" textLength="69.6" lengthAdjust="spacingAndGlyphs">Circadian time (h)</text>
<text transform="translate(6.44 191.9) rotate(-90)" text-anchor="middle" font-size="8.3" fill="#000" stroke="#000" stroke-width="0.2">[ABCB1]/[36B4]</text>
</g>
<g>
<g clip-path="url(#c4)">
<path d="M206 200.6 H337.3" stroke="#000" stroke-width="1.8" stroke-dasharray="2 1.95" fill="none"/>
<path d="M206 199V176M204.5 176H207.5M214.76 165.6V142M213.26 142H216.26M223.52 171.6V162M222.02 162H225.02M232.28 173V161M230.78 161H233.78M241.04 183.4V176.5M239.54 176.5H242.54M249.8 198V174M248.3 174H251.3M258.56 212.6V195M257.06 195H260.06M267.32 191V177M265.82 177H268.82M276.08 192.6V178M274.58 178H277.58M284.84 186V155.6M283.34 155.6H286.34M293.6 176V156M292.1 156H295.1M302.36 169.4V142M300.86 142H303.86M311.12 176V158.6M309.62 158.6H312.62M319.88 176V144M318.38 144H321.38M328.64 201V175M327.14 175H330.14" stroke="#1a1a1a" stroke-width="0.95" fill="none"/>
<path d="M206 199 L214.76 165.6 L223.52 171.6 L232.28 173 L241.04 183.4 L249.8 198 L258.56 212.6 L267.32 191 L276.08 192.6 L284.84 186 L293.6 176 L302.36 169.4 L311.12 176 L319.88 176 L328.64 201" stroke="#1a1a1a" stroke-width="0.95" stroke-dasharray="9.5 5" fill="none"/>
<circle cx="206" cy="199" r="2.3" fill="#000"/>
<circle cx="214.76" cy="165.6" r="2.3" fill="#000"/>
<circle cx="223.52" cy="171.6" r="2.3" fill="#000"/>
<circle cx="232.28" cy="173" r="2.3" fill="#000"/>
<circle cx="241.04" cy="183.4" r="2.3" fill="#000"/>
<circle cx="249.8" cy="198" r="2.3" fill="#000"/>
<circle cx="258.56" cy="212.6" r="2.3" fill="#000"/>
<circle cx="267.32" cy="191" r="2.3" fill="#000"/>
<circle cx="276.08" cy="192.6" r="2.3" fill="#000"/>
<circle cx="284.84" cy="186" r="2.3" fill="#000"/>
<circle cx="293.6" cy="176" r="2.3" fill="#000"/>
<circle cx="302.36" cy="169.4" r="2.3" fill="#000"/>
<circle cx="311.12" cy="176" r="2.3" fill="#000"/>
<circle cx="319.88" cy="176" r="2.3" fill="#000"/>
<circle cx="328.64" cy="201" r="2.3" fill="#000"/>
<path d="M206 211V227M204.5 227H207.5M214.76 193.2V214M213.26 214H216.26M223.52 180.6V195M222.02 195H225.02M232.28 200.6V226M230.78 226H233.78M241.04 200V209M239.54 209H242.54M249.8 209.4V225M248.3 225H251.3M258.56 189V219M257.06 219H260.06M267.32 200V215.6M265.82 215.6H268.82M276.08 206V219.6M274.58 219.6H277.58M284.84 193V210M283.34 210H286.34M293.6 207V221M292.1 221H295.1M302.36 192.5V209.6M300.86 209.6H303.86M311.12 205V219.6M309.62 219.6H312.62M319.88 208.4V238M318.38 238H321.38M328.64 198.6V214M327.14 214H330.14" stroke="#1a1a1a" stroke-width="0.95" fill="none"/>
<path d="M206 211 L214.76 193.2 L223.52 180.6 L232.28 200.6 L241.04 200 L249.8 209.4 L258.56 189 L267.32 200 L276.08 206 L284.84 193 L293.6 207 L302.36 192.5 L311.12 205 L319.88 208.4 L328.64 198.6" stroke="#1a1a1a" stroke-width="0.95" stroke-dasharray="9.5 5" fill="none"/>
<circle cx="206" cy="211" r="2" fill="#fff" stroke="#000" stroke-width="0.9"/>
<circle cx="214.76" cy="193.2" r="2" fill="#fff" stroke="#000" stroke-width="0.9"/>
<circle cx="223.52" cy="180.6" r="2" fill="#fff" stroke="#000" stroke-width="0.9"/>
<circle cx="232.28" cy="200.6" r="2" fill="#fff" stroke="#000" stroke-width="0.9"/>
<circle cx="241.04" cy="200" r="2" fill="#fff" stroke="#000" stroke-width="0.9"/>
<circle cx="249.8" cy="209.4" r="2" fill="#fff" stroke="#000" stroke-width="0.9"/>
<circle cx="258.56" cy="189" r="2" fill="#fff" stroke="#000" stroke-width="0.9"/>
<circle cx="267.32" cy="200" r="2" fill="#fff" stroke="#000" stroke-width="0.9"/>
<circle cx="276.08" cy="206" r="2" fill="#fff" stroke="#000" stroke-width="0.9"/>
<circle cx="284.84" cy="193" r="2" fill="#fff" stroke="#000" stroke-width="0.9"/>
<circle cx="293.6" cy="207" r="2" fill="#fff" stroke="#000" stroke-width="0.9"/>
<circle cx="302.36" cy="192.5" r="2" fill="#fff" stroke="#000" stroke-width="0.9"/>
<circle cx="311.12" cy="205" r="2" fill="#fff" stroke="#000" stroke-width="0.9"/>
<circle cx="319.88" cy="208.4" r="2" fill="#fff" stroke="#000" stroke-width="0.9"/>
<circle cx="328.64" cy="198.6" r="2" fill="#fff" stroke="#000" stroke-width="0.9"/>
<path d="M206 204.71 L206.5 203.95 L207 203.15 L207.5 202.32 L208 201.46 L208.5 200.58 L209 199.66 L209.5 198.73 L210 197.77 L210.5 196.79 L211 195.8 L211.5 194.79 L212 193.77 L212.5 192.74 L213 191.71 L213.5 190.67 L214 189.63 L214.5 188.59 L215 187.56 L215.5 186.53 L216 185.51 L216.5 184.5 L217 183.51 L217.5 182.53 L218 181.57 L218.5 180.64 L219 179.73 L219.5 178.84 L220 177.98 L220.5 177.15 L221 176.35 L221.5 175.59 L222 174.87 L222.5 174.18 L223 173.53 L223.5 172.92 L224 172.36 L224.5 171.84 L225 171.36 L225.5 170.94 L226 170.56 L226.5 170.23 L227 169.94 L227.5 169.71 L228 169.53 L228.5 169.4 L229 169.33 L229.5 169.3 L230 169.32 L230.5 169.38 L231 169.47 L231.5 169.6 L232 169.77 L232.5 169.98 L233 170.23 L233.5 170.51 L234 170.82 L234.5 171.17 L235 171.55 L235.5 171.97 L236 172.41 L236.5 172.89 L237 173.4 L237.5 173.93 L238 174.49 L238.5 175.08 L239 175.69 L239.5 176.32 L240 176.97 L240.5 177.65 L241 178.34 L241.5 179.04 L242 179.76 L242.5 180.49 L243 181.23 L243.5 181.98 L244 182.74 L244.5 183.5 L245 184.27 L245.5 185.03 L246 185.8 L246.5 186.56 L247 187.32 L247.5 188.07 L248 188.81 L248.5 189.54 L249 190.26 L249.5 190.96 L250 191.65 L250.5 192.32 L251 192.98 L251.5 193.61 L252 194.22 L252.5 194.81 L253 195.37 L253.5 195.9 L254 196.41 L254.5 196.89 L255 197.33 L255.5 197.75 L256 198.13 L256.5 198.48 L257 198.79 L257.5 199.07 L258 199.32 L258.5 199.53 L259 199.7 L259.5 199.83 L260 199.92 L260.5 199.98 L261 200 L261.5 199.99 L262 199.95 L262.5 199.89 L263 199.81 L263.5 199.71 L264 199.58 L264.5 199.43 L265 199.26 L265.5 199.06 L266 198.85 L266.5 198.61 L267 198.35 L267.5 198.07 L268 197.78 L268.5 197.46 L269 197.13 L269.5 196.78 L270 196.41 L270.5 196.03 L271 195.63 L271.5 195.22 L272 194.79 L272.5 194.35 L273 193.9 L273.5 193.44 L274 192.97 L274.5 192.5 L275 192.01 L275.5 191.52 L276 191.02 L276.5 190.52 L277 190.01 L277.5 189.51 L278 189 L278.5 188.49 L279 187.99 L279.5 187.48 L280 186.98 L280.5 186.48 L281 185.99 L281.5 185.5 L282 185.03 L282.5 184.56 L283 184.1 L283.5 183.65 L284 183.21 L284.5 182.78 L285 182.37 L285.5 181.97 L286 181.59 L286.5 181.22 L287 180.87 L287.5 180.54 L288 180.22 L288.5 179.93 L289 179.65 L289.5 179.39 L290 179.15 L290.5 178.94 L291 178.74 L291.5 178.57 L292 178.42 L292.5 178.29 L293 178.19 L293.5 178.11 L294 178.05 L294.5 178.01 L295 178 L295.5 178.01 L296 178.04 L296.5 178.09 L297 178.15 L297.5 178.24 L298 178.34 L298.5 178.47 L299 178.61 L299.5 178.77 L300 178.94 L300.5 179.14 L301 179.34 L301.5 179.57 L302 179.81 L302.5 180.06 L303 180.33 L303.5 180.61 L304 180.91 L304.5 181.22 L305 181.53 L305.5 181.86 L306 182.2 L306.5 182.54 L307 182.9 L307.5 183.25 L308 183.62 L308.5 183.99 L309 184.36 L309.5 184.74 L310 185.12 L310.5 185.5 L311 185.88 L311.5 186.26 L312 186.64 L312.5 187.01 L313 187.38 L313.5 187.75 L314 188.1 L314.5 188.46 L315 188.8 L315.5 189.14 L316 189.47 L316.5 189.78 L317 190.09 L317.5 190.39 L318 190.67 L318.5 190.94 L319 191.19 L319.5 191.43 L320 191.66 L320.5 191.86 L321 192.06 L321.5 192.23 L322 192.39 L322.5 192.53 L323 192.66 L323.5 192.76 L324 192.85 L324.5 192.91 L325 192.96 L325.5 192.99 L326 193 L326.5 192.99 L327 192.95 L327.5 192.89 L328 192.81 L328.5 192.7 L329 192.57 L329.5 192.42 L330 192.24 L330.5 192.04 L331 191.82 L331.5 191.58 L332 191.31 L332.5 191.03 L333 190.73 L333.5 190.41 L334 190.07 L334.5 189.72 L335 189.34 L335.5 188.96 L336 188.56 L336.5 188.14 L337 187.71 L337.3 187.45" stroke="#000" stroke-width="2.1" fill="none" stroke-linejoin="round"/>
</g>
<rect x="203.6" y="141.3" width="133.7" height="101.2" fill="none" stroke="#7c7c7c" stroke-width="1.0"/>
<path d="M206 242.5v-1.6M206 141.3v1.6M227.9 242.5v-1.6M227.9 141.3v1.6M249.8 242.5v-1.6M249.8 141.3v1.6M271.7 242.5v-1.6M271.7 141.3v1.6M293.6 242.5v-1.6M293.6 141.3v1.6M315.5 242.5v-1.6M315.5 141.3v1.6M203.6 211.15h1.6M337.3 211.15h-1.6M203.6 179.7h1.6M337.3 179.7h-1.6M203.6 148.25h1.6M337.3 148.25h-1.6" stroke="#7c7c7c" stroke-width="1.0" fill="none"/>
<g font-size="6.3" fill="#000" stroke="#000" stroke-width="0.22">
<text x="206" y="252.16" text-anchor="middle">0</text>
<text x="227.9" y="252.16" text-anchor="middle">10</text>
<text x="249.8" y="252.16" text-anchor="middle">20</text>
<text x="271.7" y="252.16" text-anchor="middle">30</text>
<text x="293.6" y="252.16" text-anchor="middle">40</text>
<text x="315.5" y="252.16" text-anchor="middle">50</text>
<text x="337.4" y="252.16" text-anchor="middle">60</text>
<text x="201" y="245.46" text-anchor="end">0</text>
<text x="201" y="214.01" text-anchor="end">0.5</text>
<text x="201" y="182.56" text-anchor="end">1</text>
<text x="201" y="151.11" text-anchor="end">1.5</text>
</g>
<text x="269.85" y="263.49" text-anchor="middle" font-size="9.3" fill="#000" stroke="#000" stroke-width="0.2" textLength="69.6" lengthAdjust="spacingAndGlyphs">Circadian time (h)</text>
<text transform="translate(185.84 191.9) rotate(-90)" text-anchor="middle" font-size="8.3" fill="#000" stroke="#000" stroke-width="0.2">[CES2]/[36B4]</text>
</g>
<g>
<g clip-path="url(#c5)">
<path d="M384.4 200.6 H516" stroke="#000" stroke-width="1.8" stroke-dasharray="2 1.95" fill="none"/>
<path d="M384.4 202V191M382.9 191H385.9M393.18 188.6V166M391.68 166H394.68M401.97 182.6V161M400.47 161H403.47M410.75 158V141M409.25 141H412.25M419.54 165.6V147.4M418.04 147.4H421.04M428.32 194.4V168M426.82 168H429.82M437.1 200.8V192M435.6 192H438.6M445.89 191.6V181.4M444.39 181.4H447.39M454.67 193.2V182M453.17 182H456.17M463.46 194.6V176.6M461.96 176.6H464.96M472.24 196V186M470.74 186H473.74M481.02 170.6V145M479.52 145H482.52M489.81 165.6V151.4M488.31 151.4H491.31M498.59 179.4V159.4M497.09 159.4H500.09M507.38 188.6V160M505.88 160H508.88" stroke="#1a1a1a" stroke-width="0.95" fill="none"/>
<path d="M384.4 202 L393.18 188.6 L401.97 182.6 L410.75 158 L419.54 165.6 L428.32 194.4 L437.1 200.8 L445.89 191.6 L454.67 193.2 L463.46 194.6 L472.24 196 L481.02 170.6 L489.81 165.6 L498.59 179.4 L507.38 188.6" stroke="#1a1a1a" stroke-width="0.95" stroke-dasharray="9.5 5" fill="none"/>
<circle cx="384.4" cy="202" r="2.3" fill="#000"/>
<circle cx="393.18" cy="188.6" r="2.3" fill="#000"/>
<circle cx="401.97" cy="182.6" r="2.3" fill="#000"/>
<circle cx="410.75" cy="158" r="2.3" fill="#000"/>
<circle cx="419.54" cy="165.6" r="2.3" fill="#000"/>
<circle cx="428.32" cy="194.4" r="2.3" fill="#000"/>
<circle cx="437.1" cy="200.8" r="2.3" fill="#000"/>
<circle cx="445.89" cy="191.6" r="2.3" fill="#000"/>
<circle cx="454.67" cy="193.2" r="2.3" fill="#000"/>
<circle cx="463.46" cy="194.6" r="2.3" fill="#000"/>
<circle cx="472.24" cy="196" r="2.3" fill="#000"/>
<circle cx="481.02" cy="170.6" r="2.3" fill="#000"/>
<circle cx="489.81" cy="165.6" r="2.3" fill="#000"/>
<circle cx="498.59" cy="179.4" r="2.3" fill="#000"/>
<circle cx="507.38" cy="188.6" r="2.3" fill="#000"/>
<path d="M384.4 208V220M382.9 220H385.9M393.18 196V226M391.68 226H394.68M401.97 190.6V216M400.47 216H403.47M410.75 194.4V215M409.25 215H412.25M419.54 200.5V223M418.04 223H421.04M428.32 194.6V213.6M426.82 213.6H429.82M437.1 188.6V206M435.6 206H438.6M445.89 207V211M444.39 211H447.39M454.67 189V209M453.17 209H456.17M463.46 202.8V210M461.96 210H464.96M472.24 200.8V210M470.74 210H473.74M481.02 209.8V216M479.52 216H482.52M489.81 200V210M488.31 210H491.31M498.59 204V222M497.09 222H500.09M507.38 209.8V221M505.88 221H508.88" stroke="#1a1a1a" stroke-width="0.95" fill="none"/>
<path d="M384.4 208 L393.18 196 L401.97 190.6 L410.75 194.4 L419.54 200.5 L428.32 194.6 L437.1 188.6 L445.89 207 L454.67 189 L463.46 202.8 L472.24 200.8 L481.02 209.8 L489.81 200 L498.59 204 L507.38 209.8" stroke="#1a1a1a" stroke-width="0.95" stroke-dasharray="9.5 5" fill="none"/>
<circle cx="384.4" cy="208" r="2" fill="#fff" stroke="#000" stroke-width="0.9"/>
<circle cx="393.18" cy="196" r="2" fill="#fff" stroke="#000" stroke-width="0.9"/>
<circle cx="401.97" cy="190.6" r="2" fill="#fff" stroke="#000" stroke-width="0.9"/>
<circle cx="410.75" cy="194.4" r="2" fill="#fff" stroke="#000" stroke-width="0.9"/>
<circle cx="419.54" cy="200.5" r="2" fill="#fff" stroke="#000" stroke-width="0.9"/>
<circle cx="428.32" cy="194.6" r="2" fill="#fff" stroke="#000" stroke-width="0.9"/>
<circle cx="437.1" cy="188.6" r="2" fill="#fff" stroke="#000" stroke-width="0.9"/>
<circle cx="445.89" cy="207" r="2" fill="#fff" stroke="#000" stroke-width="0.9"/>
<circle cx="454.67" cy="189" r="2" fill="#fff" stroke="#000" stroke-width="0.9"/>
<circle cx="463.46" cy="202.8" r="2" fill="#fff" stroke="#000" stroke-width="0.9"/>
<circle cx="472.24" cy="200.8" r="2" fill="#fff" stroke="#000" stroke-width="0.9"/>
<circle cx="481.02" cy="209.8" r="2" fill="#fff" stroke="#000" stroke-width="0.9"/>
<circle cx="489.81" cy="200" r="2" fill="#fff" stroke="#000" stroke-width="0.9"/>
<circle cx="498.59" cy="204" r="2" fill="#fff" stroke="#000" stroke-width="0.9"/>
<circle cx="507.38" cy="209.8" r="2" fill="#fff" stroke="#000" stroke-width="0.9"/>
<path d="M384.4 212.57 L384.9 212.38 L385.4 212.13 L385.9 211.83 L386.4 211.47 L386.9 211.05 L387.4 210.58 L387.9 210.06 L388.4 209.49 L388.9 208.86 L389.4 208.19 L389.9 207.47 L390.4 206.71 L390.9 205.9 L391.4 205.06 L391.9 204.17 L392.4 203.25 L392.9 202.29 L393.4 201.3 L393.9 200.28 L394.4 199.24 L394.9 198.17 L395.4 197.07 L395.9 195.96 L396.4 194.83 L396.9 193.69 L397.4 192.54 L397.9 191.38 L398.4 190.22 L398.9 189.05 L399.4 187.88 L399.9 186.72 L400.4 185.57 L400.9 184.42 L401.4 183.29 L401.9 182.17 L402.4 181.07 L402.9 179.99 L403.4 178.93 L403.9 177.9 L404.4 176.9 L404.9 175.93 L405.4 174.99 L405.9 174.09 L406.4 173.23 L406.9 172.41 L407.4 171.63 L407.9 170.89 L408.4 170.2 L408.9 169.56 L409.4 168.96 L409.9 168.42 L410.4 167.93 L410.9 167.49 L411.4 167.11 L411.9 166.78 L412.4 166.51 L412.9 166.3 L413.4 166.14 L413.9 166.04 L414.4 166 L414.9 166.01 L415.4 166.07 L415.9 166.16 L416.4 166.29 L416.9 166.47 L417.4 166.68 L417.9 166.93 L418.4 167.22 L418.9 167.55 L419.4 167.91 L419.9 168.31 L420.4 168.75 L420.9 169.22 L421.4 169.72 L421.9 170.25 L422.4 170.81 L422.9 171.4 L423.4 172.01 L423.9 172.65 L424.4 173.31 L424.9 174 L425.4 174.7 L425.9 175.42 L426.4 176.16 L426.9 176.91 L427.4 177.67 L427.9 178.44 L428.4 179.22 L428.9 180.01 L429.4 180.8 L429.9 181.59 L430.4 182.38 L430.9 183.16 L431.4 183.95 L431.9 184.72 L432.4 185.49 L432.9 186.24 L433.4 186.99 L433.9 187.71 L434.4 188.42 L434.9 189.12 L435.4 189.79 L435.9 190.44 L436.4 191.06 L436.9 191.66 L437.4 192.23 L437.9 192.77 L438.4 193.29 L438.9 193.77 L439.4 194.22 L439.9 194.63 L440.4 195.01 L440.9 195.35 L441.4 195.66 L441.9 195.92 L442.4 196.15 L442.9 196.34 L443.4 196.49 L443.9 196.6 L444.4 196.67 L444.9 196.7 L445.4 196.69 L445.9 196.66 L446.4 196.6 L446.9 196.51 L447.4 196.4 L447.9 196.27 L448.4 196.11 L448.9 195.93 L449.4 195.72 L449.9 195.49 L450.4 195.23 L450.9 194.96 L451.4 194.66 L451.9 194.34 L452.4 194 L452.9 193.65 L453.4 193.27 L453.9 192.88 L454.4 192.47 L454.9 192.05 L455.4 191.62 L455.9 191.17 L456.4 190.71 L456.9 190.24 L457.4 189.76 L457.9 189.27 L458.4 188.77 L458.9 188.27 L459.4 187.77 L459.9 187.26 L460.4 186.75 L460.9 186.24 L461.4 185.73 L461.9 185.23 L462.4 184.73 L462.9 184.23 L463.4 183.74 L463.9 183.26 L464.4 182.78 L464.9 182.32 L465.4 181.86 L465.9 181.42 L466.4 180.99 L466.9 180.58 L467.4 180.18 L467.9 179.8 L468.4 179.44 L468.9 179.09 L469.4 178.77 L469.9 178.46 L470.4 178.18 L470.9 177.91 L471.4 177.67 L471.9 177.46 L472.4 177.26 L472.9 177.09 L473.4 176.95 L473.9 176.83 L474.4 176.73 L474.9 176.66 L475.4 176.62 L475.9 176.6 L476.4 176.6 L476.9 176.62 L477.4 176.66 L477.9 176.71 L478.4 176.78 L478.9 176.86 L479.4 176.95 L479.9 177.06 L480.4 177.19 L480.9 177.33 L481.4 177.48 L481.9 177.64 L482.4 177.82 L482.9 178.01 L483.4 178.22 L483.9 178.43 L484.4 178.66 L484.9 178.89 L485.4 179.14 L485.9 179.39 L486.4 179.66 L486.9 179.93 L487.4 180.21 L487.9 180.49 L488.4 180.78 L488.9 181.08 L489.4 181.38 L489.9 181.69 L490.4 182 L490.9 182.31 L491.4 182.62 L491.9 182.94 L492.4 183.25 L492.9 183.56 L493.4 183.88 L493.9 184.19 L494.4 184.49 L494.9 184.8 L495.4 185.1 L495.9 185.39 L496.4 185.68 L496.9 185.96 L497.4 186.24 L497.9 186.5 L498.4 186.76 L498.9 187.01 L499.4 187.25 L499.9 187.48 L500.4 187.7 L500.9 187.91 L501.4 188.1 L501.9 188.29 L502.4 188.46 L502.9 188.61 L503.4 188.76 L503.9 188.89 L504.4 189 L504.9 189.11 L505.4 189.19 L505.9 189.26 L506.4 189.32 L506.9 189.36 L507.4 189.39 L507.9 189.4 L508.4 189.4 L508.9 189.38 L509.4 189.35 L509.9 189.31 L510.4 189.25 L510.9 189.18 L511.4 189.11 L511.9 189.01 L512.4 188.91 L512.9 188.79 L513.4 188.67 L513.9 188.53 L514.4 188.38 L514.9 188.23 L515.4 188.06 L515.9 187.88 L516 187.84" stroke="#000" stroke-width="2.1" fill="none" stroke-linejoin="round"/>
</g>
<rect x="382.3" y="141.3" width="133.7" height="101.2" fill="none" stroke="#7c7c7c" stroke-width="1.0"/>
<path d="M384.4 242.5v-1.6M384.4 141.3v1.6M406.36 242.5v-1.6M406.36 141.3v1.6M428.32 242.5v-1.6M428.32 141.3v1.6M450.28 242.5v-1.6M450.28 141.3v1.6M472.24 242.5v-1.6M472.24 141.3v1.6M494.2 242.5v-1.6M494.2 141.3v1.6M382.3 214.55h1.6M516 214.55h-1.6M382.3 186.7h1.6M516 186.7h-1.6M382.3 158.85h1.6M516 158.85h-1.6" stroke="#7c7c7c" stroke-width="1.0" fill="none"/>
<g font-size="6.3" fill="#000" stroke="#000" stroke-width="0.22">
<text x="384.4" y="252.16" text-anchor="middle">0</text>
<text x="406.36" y="252.16" text-anchor="middle">10</text>
<text x="428.32" y="252.16" text-anchor="middle">20</text>
<text x="450.28" y="252.16" text-anchor="middle">30</text>
<text x="472.24" y="252.16" text-anchor="middle">40</text>
<text x="494.2" y="252.16" text-anchor="middle">50</text>
<text x="516.16" y="252.16" text-anchor="middle">60</text>
<text x="379.7" y="245.26" text-anchor="end">0</text>
<text x="379.7" y="217.41" text-anchor="end">0.5</text>
<text x="379.7" y="189.56" text-anchor="end">1</text>
<text x="379.7" y="161.71" text-anchor="end">1.5</text>
</g>
<text x="449.45" y="263.49" text-anchor="middle" font-size="9.3" fill="#000" stroke="#000" stroke-width="0.2" textLength="69.6" lengthAdjust="spacingAndGlyphs">Circadian time (h)</text>
<text transform="translate(365.04 191.9) rotate(-90)" text-anchor="middle" font-size="8.3" fill="#000" stroke="#000" stroke-width="0.2">[UGT1A1]/[36B4]</text>
</g>
<g>
<g clip-path="url(#c6)">
<path d="M26.6 342 H159.2" stroke="#000" stroke-width="1.8" stroke-dasharray="2 1.95" fill="none"/>
<path d="M26.6 308V294M25.1 294H28.1M35.44 337V324.4M33.94 324.4H36.94M44.28 343.4V333M42.78 333H45.78M53.12 310.6V289.4M51.62 289.4H54.62M61.96 306V284.4M60.46 284.4H63.46M70.8 331V309M69.3 309H72.3M79.64 336V324.4M78.14 324.4H81.14M88.48 340.5V320M86.98 320H89.98M97.32 353V342M95.82 342H98.82M106.16 321V304M104.66 304H107.66M115 305V285M113.5 285H116.5M123.84 324.4V308.4M122.34 308.4H125.34M132.68 329V308.4M131.18 308.4H134.18M141.52 354.4V346M140.02 346H143.02M150.36 339.6V322.4M148.86 322.4H151.86" stroke="#1a1a1a" stroke-width="0.95" fill="none"/>
<path d="M26.6 308 L35.44 337 L44.28 343.4 L53.12 310.6 L61.96 306 L70.8 331 L79.64 336 L88.48 340.5 L97.32 353 L106.16 321 L115 305 L123.84 324.4 L132.68 329 L141.52 354.4 L150.36 339.6" stroke="#1a1a1a" stroke-width="0.95" stroke-dasharray="9.5 5" fill="none"/>
<circle cx="26.6" cy="308" r="2.3" fill="#000"/>
<circle cx="35.44" cy="337" r="2.3" fill="#000"/>
<circle cx="44.28" cy="343.4" r="2.3" fill="#000"/>
<circle cx="53.12" cy="310.6" r="2.3" fill="#000"/>
<circle cx="61.96" cy="306" r="2.3" fill="#000"/>
<circle cx="70.8" cy="331" r="2.3" fill="#000"/>
<circle cx="79.64" cy="336" r="2.3" fill="#000"/>
<circle cx="88.48" cy="340.5" r="2.3" fill="#000"/>
<circle cx="97.32" cy="353" r="2.3" fill="#000"/>
<circle cx="106.16" cy="321" r="2.3" fill="#000"/>
<circle cx="115" cy="305" r="2.3" fill="#000"/>
<circle cx="123.84" cy="324.4" r="2.3" fill="#000"/>
<circle cx="132.68" cy="329" r="2.3" fill="#000"/>
<circle cx="141.52" cy="354.4" r="2.3" fill="#000"/>
<circle cx="150.36" cy="339.6" r="2.3" fill="#000"/>
<path d="M26.6 345.6V362.5M25.1 362.5H28.1M35.44 345.8V353M33.94 353H36.94M44.28 352.6V357.5M42.78 357.5H45.78M53.12 324.5V343M51.62 343H54.62M61.96 340.7V354M60.46 354H63.46M70.8 349.2V357M69.3 357H72.3M79.64 335.6V354M78.14 354H81.14M88.48 332V367M86.98 367H89.98M97.32 347V370M95.82 370H98.82M106.16 340.4V362M104.66 362H107.66M115 333V357.6M113.5 357.6H116.5M123.84 346.8V358M122.34 358H125.34M132.68 335.8V357M131.18 357H134.18M141.52 343V364M140.02 364H143.02M150.36 341.3V368.4M148.86 368.4H151.86" stroke="#1a1a1a" stroke-width="0.95" fill="none"/>
<path d="M26.6 345.6 L35.44 345.8 L44.28 352.6 L53.12 324.5 L61.96 340.7 L70.8 349.2 L79.64 335.6 L88.48 332 L97.32 347 L106.16 340.4 L115 333 L123.84 346.8 L132.68 335.8 L141.52 343 L150.36 341.3" stroke="#1a1a1a" stroke-width="0.95" stroke-dasharray="9.5 5" fill="none"/>
<circle cx="26.6" cy="345.6" r="2" fill="#fff" stroke="#000" stroke-width="0.9"/>
<circle cx="35.44" cy="345.8" r="2" fill="#fff" stroke="#000" stroke-width="0.9"/>
<circle cx="44.28" cy="352.6" r="2" fill="#fff" stroke="#000" stroke-width="0.9"/>
<circle cx="53.12" cy="324.5" r="2" fill="#fff" stroke="#000" stroke-width="0.9"/>
<circle cx="61.96" cy="340.7" r="2" fill="#fff" stroke="#000" stroke-width="0.9"/>
<circle cx="70.8" cy="349.2" r="2" fill="#fff" stroke="#000" stroke-width="0.9"/>
<circle cx="79.64" cy="335.6" r="2" fill="#fff" stroke="#000" stroke-width="0.9"/>
<circle cx="88.48" cy="332" r="2" fill="#fff" stroke="#000" stroke-width="0.9"/>
<circle cx="97.32" cy="347" r="2" fill="#fff" stroke="#000" stroke-width="0.9"/>
<circle cx="106.16" cy="340.4" r="2" fill="#fff" stroke="#000" stroke-width="0.9"/>
<circle cx="115" cy="333" r="2" fill="#fff" stroke="#000" stroke-width="0.9"/>
<circle cx="123.84" cy="346.8" r="2" fill="#fff" stroke="#000" stroke-width="0.9"/>
<circle cx="132.68" cy="335.8" r="2" fill="#fff" stroke="#000" stroke-width="0.9"/>
<circle cx="141.52" cy="343" r="2" fill="#fff" stroke="#000" stroke-width="0.9"/>
<circle cx="150.36" cy="341.3" r="2" fill="#fff" stroke="#000" stroke-width="0.9"/>
<path d="M26.6 358.99 L27.1 359 L27.6 358.95 L28.1 358.84 L28.6 358.67 L29.1 358.42 L29.6 358.12 L30.1 357.75 L30.6 357.32 L31.1 356.83 L31.6 356.28 L32.1 355.67 L32.6 355 L33.1 354.28 L33.6 353.51 L34.1 352.68 L34.6 351.8 L35.1 350.88 L35.6 349.91 L36.1 348.9 L36.6 347.85 L37.1 346.77 L37.6 345.65 L38.1 344.5 L38.6 343.32 L39.1 342.11 L39.6 340.89 L40.1 339.64 L40.6 338.38 L41.1 337.11 L41.6 335.82 L42.1 334.53 L42.6 333.24 L43.1 331.95 L43.6 330.66 L44.1 329.38 L44.6 328.11 L45.1 326.86 L45.6 325.62 L46.1 324.4 L46.6 323.21 L47.1 322.04 L47.6 320.9 L48.1 319.79 L48.6 318.72 L49.1 317.69 L49.6 316.69 L50.1 315.74 L50.6 314.84 L51.1 313.98 L51.6 313.18 L52.1 312.42 L52.6 311.72 L53.1 311.08 L53.6 310.49 L54.1 309.97 L54.6 309.5 L55.1 309.09 L55.6 308.75 L56.1 308.47 L56.6 308.26 L57.1 308.11 L57.6 308.02 L58.1 308 L58.6 308.04 L59.1 308.13 L59.6 308.28 L60.1 308.47 L60.6 308.72 L61.1 309.03 L61.6 309.38 L62.1 309.79 L62.6 310.24 L63.1 310.74 L63.6 311.29 L64.1 311.89 L64.6 312.52 L65.1 313.21 L65.6 313.93 L66.1 314.69 L66.6 315.48 L67.1 316.31 L67.6 317.18 L68.1 318.07 L68.6 319 L69.1 319.94 L69.6 320.91 L70.1 321.91 L70.6 322.92 L71.1 323.94 L71.6 324.98 L72.1 326.03 L72.6 327.09 L73.1 328.15 L73.6 329.21 L74.1 330.28 L74.6 331.34 L75.1 332.39 L75.6 333.44 L76.1 334.47 L76.6 335.49 L77.1 336.49 L77.6 337.48 L78.1 338.44 L78.6 339.38 L79.1 340.29 L79.6 341.17 L80.1 342.02 L80.6 342.84 L81.1 343.62 L81.6 344.37 L82.1 345.07 L82.6 345.74 L83.1 346.36 L83.6 346.93 L84.1 347.46 L84.6 347.95 L85.1 348.38 L85.6 348.77 L86.1 349.1 L86.6 349.38 L87.1 349.61 L87.6 349.79 L88.1 349.91 L88.6 349.98 L89.1 350 L89.6 349.97 L90.1 349.9 L90.6 349.78 L91.1 349.63 L91.6 349.43 L92.1 349.19 L92.6 348.91 L93.1 348.6 L93.6 348.24 L94.1 347.84 L94.6 347.41 L95.1 346.95 L95.6 346.44 L96.1 345.91 L96.6 345.34 L97.1 344.75 L97.6 344.12 L98.1 343.47 L98.6 342.79 L99.1 342.09 L99.6 341.36 L100.1 340.62 L100.6 339.85 L101.1 339.07 L101.6 338.28 L102.1 337.47 L102.6 336.66 L103.1 335.83 L103.6 335 L104.1 334.17 L104.6 333.33 L105.1 332.5 L105.6 331.66 L106.1 330.84 L106.6 330.01 L107.1 329.2 L107.6 328.4 L108.1 327.61 L108.6 326.84 L109.1 326.08 L109.6 325.35 L110.1 324.63 L110.6 323.94 L111.1 323.27 L111.6 322.63 L112.1 322.01 L112.6 321.43 L113.1 320.87 L113.6 320.35 L114.1 319.86 L114.6 319.41 L115.1 318.99 L115.6 318.61 L116.1 318.27 L116.6 317.97 L117.1 317.71 L117.6 317.49 L118.1 317.3 L118.6 317.17 L119.1 317.07 L119.6 317.01 L120.1 317 L120.6 317.02 L121.1 317.07 L121.6 317.14 L122.1 317.24 L122.6 317.37 L123.1 317.53 L123.6 317.71 L124.1 317.92 L124.6 318.16 L125.1 318.42 L125.6 318.7 L126.1 319.01 L126.6 319.34 L127.1 319.7 L127.6 320.08 L128.1 320.47 L128.6 320.89 L129.1 321.33 L129.6 321.79 L130.1 322.26 L130.6 322.75 L131.1 323.26 L131.6 323.78 L132.1 324.31 L132.6 324.86 L133.1 325.42 L133.6 325.98 L134.1 326.56 L134.6 327.14 L135.1 327.73 L135.6 328.32 L136.1 328.92 L136.6 329.52 L137.1 330.12 L137.6 330.72 L138.1 331.32 L138.6 331.91 L139.1 332.51 L139.6 333.09 L140.1 333.67 L140.6 334.25 L141.1 334.81 L141.6 335.36 L142.1 335.9 L142.6 336.43 L143.1 336.95 L143.6 337.45 L144.1 337.93 L144.6 338.4 L145.1 338.85 L145.6 339.28 L146.1 339.69 L146.6 340.08 L147.1 340.45 L147.6 340.79 L148.1 341.12 L148.6 341.42 L149.1 341.69 L149.6 341.94 L150.1 342.17 L150.6 342.36 L151.1 342.54 L151.6 342.68 L152.1 342.8 L152.6 342.89 L153.1 342.96 L153.6 342.99 L154.1 343 L154.6 342.98 L155.1 342.93 L155.6 342.86 L156.1 342.76 L156.6 342.64 L157.1 342.49 L157.6 342.31 L158.1 342.11 L158.6 341.88 L159.1 341.63 L159.2 341.58" stroke="#000" stroke-width="2.1" fill="none" stroke-linejoin="round"/>
</g>
<rect x="24.5" y="281.2" width="134.7" height="100.6" fill="none" stroke="#7c7c7c" stroke-width="1.0"/>
<path d="M26.6 381.8v-1.6M26.6 281.2v1.6M48.7 381.8v-1.6M48.7 281.2v1.6M70.8 381.8v-1.6M70.8 281.2v1.6M92.9 381.8v-1.6M92.9 281.2v1.6M115 381.8v-1.6M115 281.2v1.6M137.1 381.8v-1.6M137.1 281.2v1.6M24.5 353.9h1.6M159.2 353.9h-1.6M24.5 326h1.6M159.2 326h-1.6M24.5 298.1h1.6M159.2 298.1h-1.6" stroke="#7c7c7c" stroke-width="1.0" fill="none"/>
<g font-size="6.3" fill="#000" stroke="#000" stroke-width="0.22">
<text x="26.6" y="391.46" text-anchor="middle">0</text>
<text x="48.7" y="391.46" text-anchor="middle">10</text>
<text x="70.8" y="391.46" text-anchor="middle">20</text>
<text x="92.9" y="391.46" text-anchor="middle">30</text>
<text x="115" y="391.46" text-anchor="middle">40</text>
<text x="137.1" y="391.46" text-anchor="middle">50</text>
<text x="159.2" y="391.46" text-anchor="middle">60</text>
<text x="21.9" y="384.66" text-anchor="end">0</text>
<text x="21.9" y="356.76" text-anchor="end">0.5</text>
<text x="21.9" y="328.86" text-anchor="end">1</text>
<text x="21.9" y="300.96" text-anchor="end">1.5</text>
</g>
<text x="94.65" y="402.79" text-anchor="middle" font-size="9.3" fill="#000" stroke="#000" stroke-width="0.2" textLength="69.6" lengthAdjust="spacingAndGlyphs">Circadian time (h)</text>
<text transform="translate(6.44 331.5) rotate(-90)" text-anchor="middle" font-size="8.3" fill="#000" stroke="#000" stroke-width="0.2">[TOP1]/[36B4]</text>
</g>
</svg>
</body>
</html>
